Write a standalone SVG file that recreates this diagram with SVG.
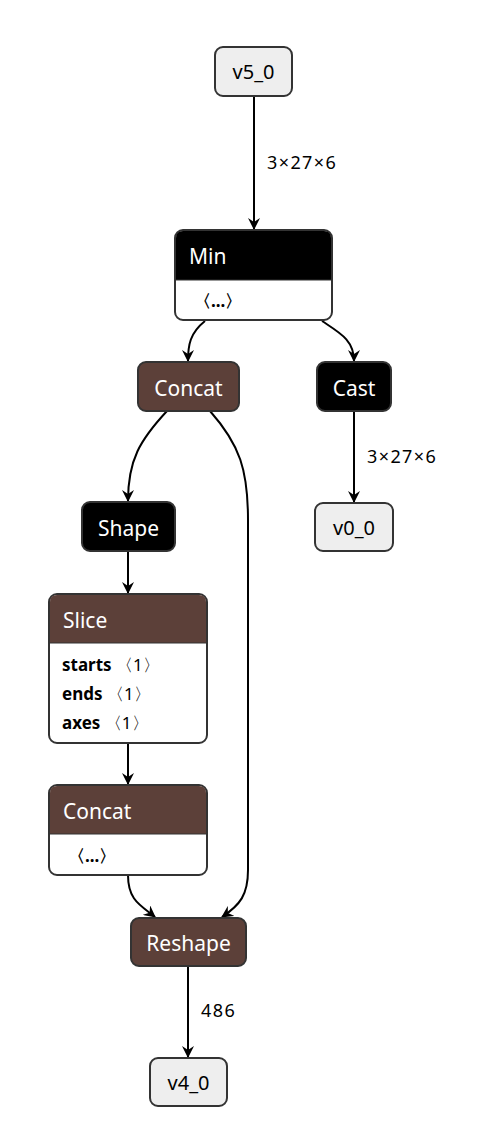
<svg xmlns="http://www.w3.org/2000/svg" width="501" height="1137" viewBox="0 0 501 1137">
<defs>
<style>
.e{fill:none;stroke:#000;stroke-width:2;marker-end:url(#a)}
.lbl{font-family:"Noto Sans","Open Sans",sans-serif;font-size:18px;fill:#000;letter-spacing:1.4px}
.t{font-family:"Noto Sans","Open Sans",sans-serif;font-size:21px;fill:#fff}
.tk{font-family:"Noto Sans","Open Sans",sans-serif;font-size:20px;fill:#000}
.at{font-family:"Noto Sans","Open Sans",sans-serif;font-size:17px;fill:#000}
.b{font-weight:bold}
.io{fill:#eeeeee;stroke:#333;stroke-width:2}
.op{stroke:#333;stroke-width:2}
</style>
<marker id="a" viewBox="0 0 12 12" refX="11" refY="6" markerWidth="12" markerHeight="12" orient="auto" markerUnits="userSpaceOnUse">
<path d="M0,0 L12,6 L0,12 L4,6 z" fill="#000"/>
</marker>
</defs>
<g id="connectors">
<path class="e" d="M254,96 L254,229"/>
<path class="e" d="M205,321 C190,333 188,345 188,361"/>
<path class="e" d="M322,321 C340,333 354,340 354,361"/>
<path class="e" d="M354,411 L354,502"/>
<path class="e" d="M167,411 C140,440 128,460 128,501"/>
<path class="e" d="M210,411 C240,445 248,470 248,520 L248,870 C248,895 240,905 222,917"/>
<path class="e" d="M128,551 L128,593"/>
<path class="e" d="M128,743 L128,784"/>
<path class="e" d="M128,875 C128,900 140,905 155,917"/>
<path class="e" d="M188,966 L188,1057"/>
<text class="lbl" x="267" y="169">3×27×6</text>
<text class="lbl" x="367" y="463">3×27×6</text>
<text class="lbl" x="201" y="1017">486</text>
</g>
<g id="v5_0">
<rect class="io" x="215" y="47" width="77" height="49" rx="8"/>
<text class="tk" x="253.5" y="79" text-anchor="middle">v5_0</text>
</g>
<g id="Min">
<rect x="175" y="230" width="157" height="90" rx="8" fill="#fff" stroke="#333" stroke-width="2"/>
<path d="M176,280 L176,238 Q176,231 183,231 L324,231 Q331,231 331,238 L331,280 z" fill="#000"/>
<line x1="175" y1="280" x2="332" y2="280" stroke="#333" stroke-width="1"/>
<text class="t" x="189" y="264">Min</text>
<text class="at b" x="194" y="307">〈...〉</text>
</g>
<g id="Concat1">
<rect class="op" x="138" y="362" width="101" height="49" rx="8" fill="#5c4039"/>
<text class="t" x="188.5" y="396" text-anchor="middle">Concat</text>
</g>
<g id="Cast">
<rect class="op" x="317" y="362" width="74" height="49" rx="8" fill="#000"/>
<text class="t" x="354" y="396" text-anchor="middle">Cast</text>
</g>
<g id="v0_0">
<rect class="io" x="315" y="503" width="78" height="48" rx="8"/>
<text class="tk" x="354" y="535" text-anchor="middle">v0_0</text>
</g>
<g id="Shape">
<rect class="op" x="82" y="502" width="93" height="49" rx="8" fill="#000"/>
<text class="t" x="128.5" y="536" text-anchor="middle">Shape</text>
</g>
<g id="Slice">
<rect x="49" y="594" width="158" height="149" rx="8" fill="#fff" stroke="#333" stroke-width="2"/>
<path d="M50,643 L50,602 Q50,595 57,595 L199,595 Q206,595 206,602 L206,643 z" fill="#5c4039"/>
<line x1="49" y1="643" x2="207" y2="643" stroke="#333" stroke-width="1"/>
<text class="t" x="63" y="628">Slice</text>
<text class="at" x="62" y="671"><tspan class="b">starts</tspan> 〈1〉</text>
<text class="at" x="62" y="700"><tspan class="b">ends</tspan> 〈1〉</text>
<text class="at" x="62" y="729"><tspan class="b">axes</tspan> 〈1〉</text>
</g>
<g id="Concat2">
<rect x="49" y="785" width="158" height="90" rx="8" fill="#fff" stroke="#333" stroke-width="2"/>
<path d="M50,834 L50,793 Q50,786 57,786 L199,786 Q206,786 206,793 L206,834 z" fill="#5c4039"/>
<line x1="49" y1="834" x2="207" y2="834" stroke="#333" stroke-width="1"/>
<text class="t" x="63" y="819">Concat</text>
<text class="at b" x="68" y="862">〈...〉</text>
</g>
<g id="Reshape">
<rect class="op" x="131" y="918" width="115" height="48" rx="8" fill="#5c4039"/>
<text class="t" x="188.5" y="951" text-anchor="middle">Reshape</text>
</g>
<g id="v4_0">
<rect class="io" x="150" y="1058" width="77" height="48" rx="8"/>
<text class="tk" x="188.5" y="1090" text-anchor="middle">v4_0</text>
</g>
</svg>
